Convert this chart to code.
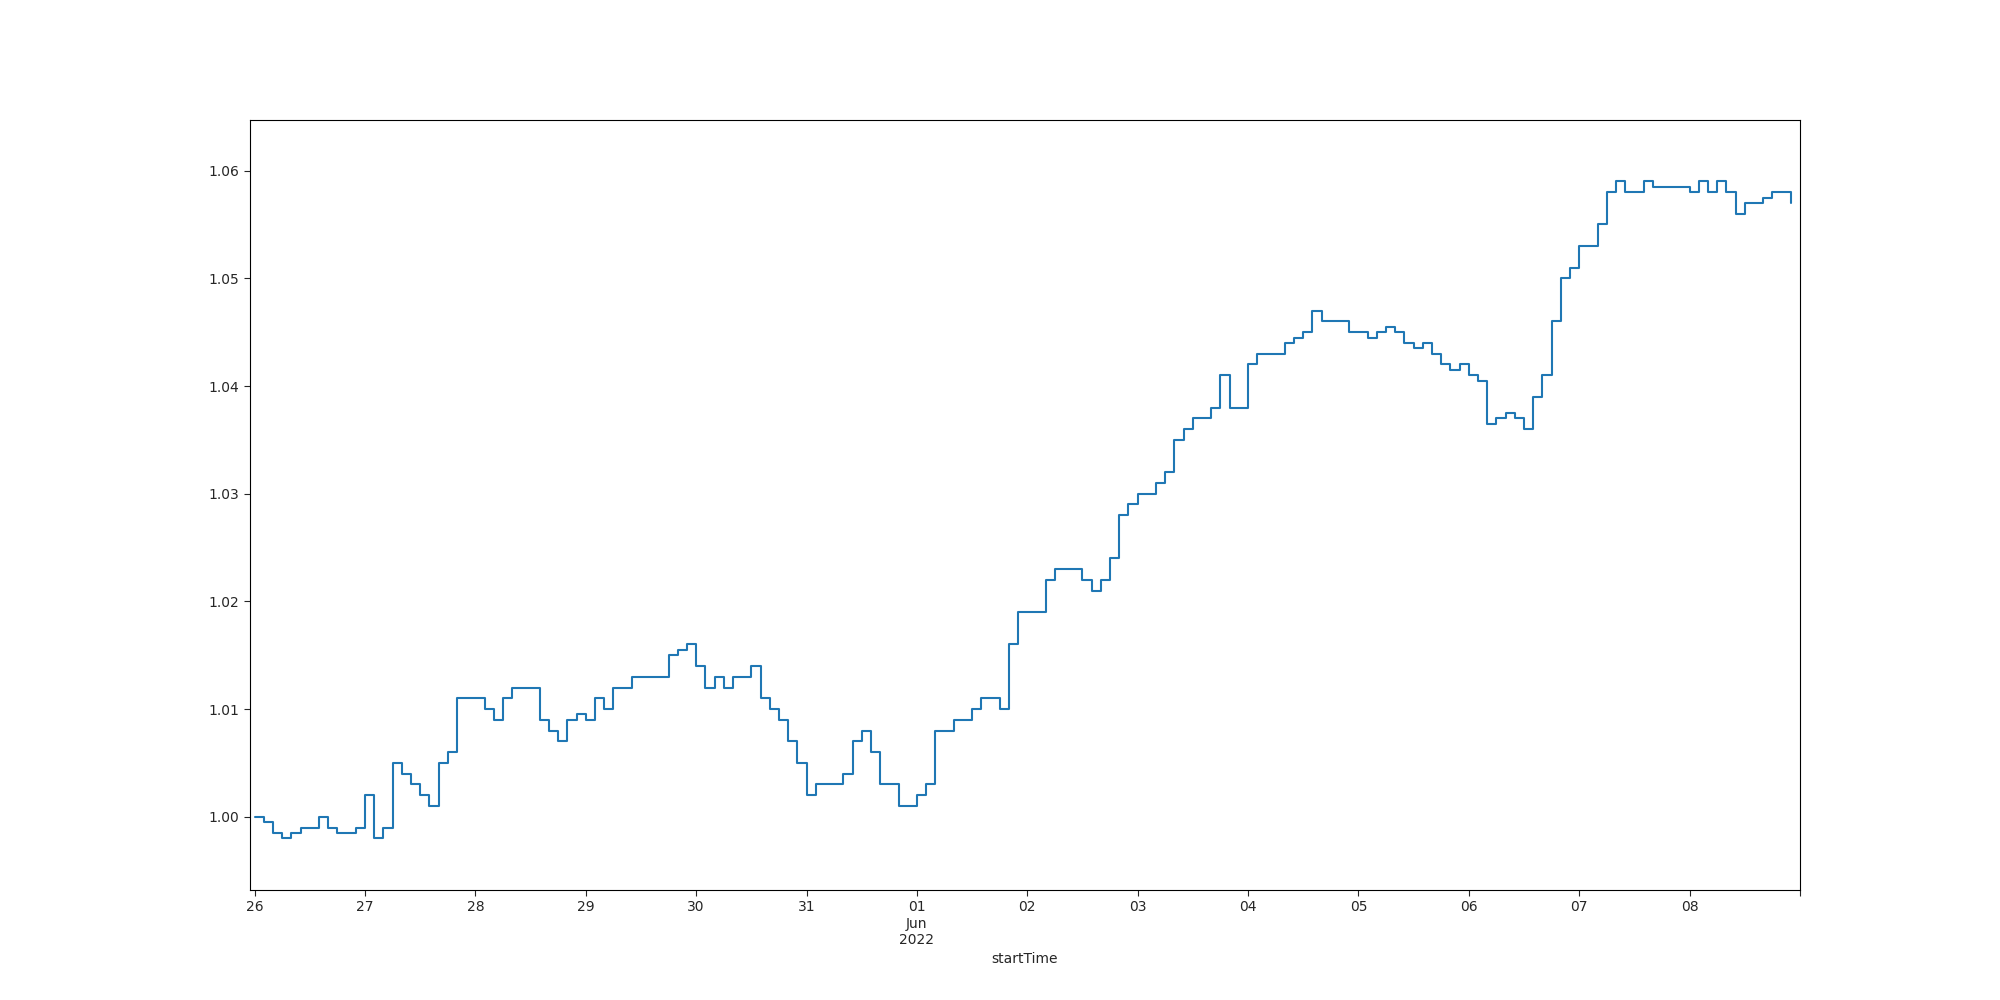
import numpy as np, pandas as pd, matplotlib
matplotlib.use("Agg")
import matplotlib.pyplot as plt, seaborn as sns

start = "2022-05-26 00:00"
freq = "2h"
vals = [
 1.000,0.9995,0.9985,0.998,0.9985,0.999,0.999,1.000,0.999,0.9985,0.9985,0.999,
 1.002,0.998,0.999,1.005,1.004,1.003,1.002,1.001,1.005,1.006,1.011,1.011,
 1.011,1.010,1.009,1.011,1.012,1.012,1.012,1.009,1.008,1.007,1.009,1.0095,
 1.009,1.011,1.010,1.012,1.012,1.013,1.013,1.013,1.013,1.015,1.0155,1.016,
 1.014,1.012,1.013,1.012,1.013,1.013,1.014,1.011,1.010,1.009,1.007,1.005,
 1.002,1.003,1.003,1.003,1.004,1.007,1.008,1.006,1.003,1.003,1.001,1.001,
 1.002,1.003,1.008,1.008,1.009,1.009,1.010,1.011,1.011,1.010,1.016,1.019,
 1.019,1.019,1.022,1.023,1.023,1.023,1.022,1.021,1.022,1.024,1.028,1.029,
 1.030,1.030,1.031,1.032,1.035,1.036,1.037,1.037,1.038,1.041,1.038,1.038,
 1.042,1.043,1.043,1.043,1.044,1.0445,1.045,1.047,1.046,1.046,1.046,1.045,
 1.045,1.0445,1.045,1.0455,1.045,1.044,1.0435,1.044,1.043,1.042,1.0415,1.042,
 1.041,1.0405,1.0365,1.037,1.0375,1.037,1.036,1.039,1.041,1.046,1.050,1.051,
 1.053,1.053,1.055,1.058,1.059,1.058,1.058,1.059,1.0585,1.0585,1.0585,1.0585,
 1.058,1.059,1.058,1.059,1.058,1.056,1.057,1.057,1.0575,1.058,1.058,1.057,
]
t = pd.date_range(start, periods=len(vals), freq=freq)
df = pd.DataFrame({"startTime": t, "value": vals})

sns.set_style("white")
fig, ax = plt.subplots(figsize=(20, 10), dpi=100)
sns.lineplot(data=df, x="startTime", y="value", ax=ax, drawstyle="steps-post", color="#1f77b4", linewidth=1.5)
ax.set_xlim(t[0] - pd.Timedelta("1h"), pd.Timestamp("2022-06-09 00:00"))
ax.set_ylim(0.9932, 1.0647)
ax.set_ylabel("")
days = pd.date_range("2022-05-26", "2022-06-09", freq="D")
ax.set_xticks(days)
labels = []
for d in days:
    if d == pd.Timestamp("2022-06-09"):
        labels.append("")
    elif d.day == 1:
        labels.append("01\nJun\n2022")
    else:
        labels.append(d.strftime("%d"))
ax.set_xticklabels(labels, fontsize=10)
ax.tick_params(axis="both", length=4, labelsize=10, left=True, bottom=True)
ax.set_xlabel("startTime", fontsize=10)
for s in ax.spines.values():
    s.set_color("black"); s.set_linewidth(0.8)
fig.savefig("out.png")
